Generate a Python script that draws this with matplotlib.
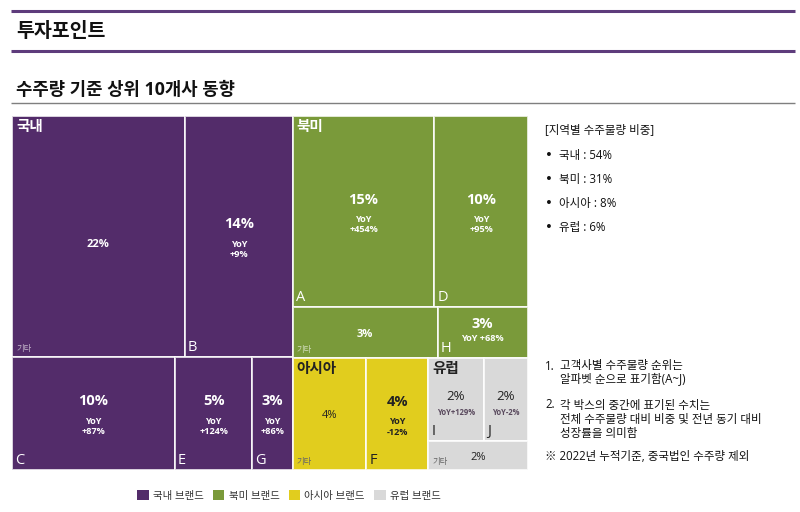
import matplotlib
matplotlib.use("Agg")
import matplotlib.pyplot as plt
from matplotlib.patches import Rectangle, Patch
from matplotlib.lines import Line2D

plt.rcParams['font.family'] = ['Open Sans', 'Noto Sans CJK KR', 'DejaVu Sans']

# ---------------- data ----------------
regions = ['국내', '북미', '아시아', '유럽']
region_share = [54, 31, 8, 6]
region_colors = ['#532C6A', '#7A9A3A', '#E1CD1E', '#D9D9D9']
legend_labels = ['국내 브랜드', '북미 브랜드', '아시아 브랜드', '유럽 브랜드']

kr_names = ['기타', 'B', 'C', 'E', 'G']
kr_sizes = [22.7, 14.2, 10.1, 4.8, 2.5]
kr_labels = ['22%', '14%', '10%', '5%', '3%']
kr_yoy = [None, '+9%', '+87%', '+124%', '+86%']

na_names = ['A', 'D', '기타', 'H']
na_sizes = [14.8, 9.8, 4.0, 2.5]
na_labels = ['15%', '10%', '3%', '3%']
na_yoy = ['+454%', '+95%', None, '+68%']

as_names = ['기타', 'F']
as_sizes = [4.5, 3.8]
as_labels = ['4%', '4%']
as_yoy = [None, '-12%']

eu_names = ['I', 'J', '기타']
eu_sizes = [2.5, 2.0, 1.6]
eu_labels = ['2%', '2%', '2%']
eu_yoy = ['+129%', '-2%', None]

notes = [
    ('1.', ['고객사별 수주물량 순위는', '알파벳 순으로 표기함(A~J)']),
    ('2.', ['각 박스의 중간에 표기된 수치는', '전체 수주물량 대비 비중 및 전년 동기 대비', '성장률을 의미함']),
]
footnote = '※ 2022년 누적기준, 중국법인 수주량 제외'

# ---------------- figure ----------------
W, H = 800, 512
fig = plt.figure(figsize=(W / 100, H / 100), dpi=100)
fig.patch.set_facecolor('white')


def fx(x):
    return x / W


def fy(y):
    return 1 - y / H


def hline(x0, x1, y, color, lw):
    fig.add_artist(Line2D([fx(x0), fx(x1)], [fy(y), fy(y)], transform=fig.transFigure,
                          color=color, lw=lw, solid_capstyle='butt'))


hline(11, 795, 11, '#5E3C7C', 2.2)
hline(11, 795, 50.5, '#5E3C7C', 2.2)
hline(11, 795, 103, '#7F7F7F', 1.0)
fig.text(fx(16), fy(32), '투자포인트', fontsize=14, fontweight='bold', va='center', ha='left', color='#111111')
fig.text(fx(16), fy(90), '수주량 기준 상위 10개사 동향', fontsize=12.8, fontweight='bold', va='center', ha='left', color='#111111')

# treemap axes
TX0, TY0, TX1, TY1 = 12, 116, 528, 470
ax = fig.add_axes([fx(TX0), fy(TY1), (TX1 - TX0) / W, (TY1 - TY0) / H])
ax.set_xlim(0, 1)
ax.set_ylim(1, 0)
ax.axis('off')


def split(rect, weights, horizontal):
    x, y, w, h = rect
    tot = sum(weights)
    out = []
    pos = 0.0
    for wt in weights:
        f = wt / tot
        if horizontal:
            out.append((x + pos * w, y, f * w, h))
        else:
            out.append((x, y + pos * h, w, f * h))
        pos += f
    return out


def layout_rows(rect, sizes, rows):
    row_w = [sum(sizes[i] for i in r) for r in rows]
    row_rects = split(rect, row_w, horizontal=False)
    rects = [None] * len(sizes)
    for rr, r in zip(row_rects, rows):
        for idx, sub in zip(r, split(rr, [sizes[i] for i in r], horizontal=True)):
            rects[idx] = sub
    return rects


full = (0, 0, 1, 1)
tot_kr, tot_na, tot_as, tot_eu = sum(kr_sizes), sum(na_sizes), sum(as_sizes), sum(eu_sizes)
r_kr, r_rest = split(full, [tot_kr, tot_na + tot_as + tot_eu], horizontal=True)
r_na, r_bot = split(r_rest, [tot_na, tot_as + tot_eu], horizontal=False)
r_as, r_eu = split(r_bot, [tot_as, tot_eu], horizontal=True)

kr_rects = layout_rows(r_kr, kr_sizes, [[0, 1], [2, 3, 4]])
na_rects = layout_rows(r_na, na_sizes, [[0, 1], [2, 3]])
as_rects = layout_rows(r_as, as_sizes, [[0, 1]])
eu_rects = layout_rows(r_eu, eu_sizes, [[0, 1], [2]])

PT = 72 / 100  # points per pixel


def put(x, y, s, dx=0, dy=0, **kw):
    ax.annotate(s, (x, y), xytext=(dx * PT, -dy * PT), textcoords='offset points', **kw)


def draw_group(rects, names, labels, yoys, color, dark, region):
    txt = '#222222' if dark else 'white'
    sub = '#666666' if dark else (1, 1, 1, 0.65)
    for k, (rc, nm, lb, yy) in enumerate(zip(rects, names, labels, yoys)):
        x, y, w, h = rc
        ax.add_patch(Rectangle((x, y), w, h, facecolor=color, edgecolor=(1, 1, 1, 0.8), lw=1.4))
        cx, cy = x + w / 2, y + h / 2
        hp = h * (TY1 - TY0)
        # corner label
        if nm == '기타':
            put(x, y + h, '기타', dx=4, dy=-4, fontsize=6, color=sub, ha='left', va='bottom')
        else:
            put(x, y + h, nm, dx=3, dy=-2, fontsize=10.5, color=txt, ha='left', va='bottom')
        # central labels
        if yy is None:
            put(cx, cy, lb, dy=(8 if hp > 150 else 2), fontsize=8,
                fontweight='bold' if not dark else 'normal',
                color=txt, ha='center', va='center')
        elif region == '유럽':
            put(cx, cy, lb, dy=-3, fontsize=9.5, color=txt, ha='center', va='center')
            put(cx, cy, 'YoY' + yy, dy=13, fontsize=5.5, fontweight='bold', color='#5A4A5E',
                ha='center', va='center')
        elif hp < 60:
            put(cx, cy, lb, dy=-9, fontsize=10.5, fontweight='bold', color=txt, ha='center', va='center')
            put(cx, cy, 'YoY ' + yy, dy=6, fontsize=6.6, fontweight='bold', color=txt,
                ha='center', va='center')
        else:
            put(cx, cy, lb, dy=-12, fontsize=10.5, fontweight='bold', color=txt, ha='center', va='center')
            put(cx, cy, 'YoY\n' + yy, dy=13, fontsize=6.6, fontweight='bold', color=txt,
                ha='center', va='center', linespacing=1.2)
        if k == 0:
            put(x, y, region, dx=4, dy=4, fontsize=10.5, fontweight='bold', color=txt,
                ha='left', va='top')


draw_group(kr_rects, kr_names, kr_labels, kr_yoy, region_colors[0], False, regions[0])
draw_group(na_rects, na_names, na_labels, na_yoy, region_colors[1], False, regions[1])
draw_group(as_rects, as_names, as_labels, as_yoy, region_colors[2], True, regions[2])
draw_group(eu_rects, eu_names, eu_labels, eu_yoy, region_colors[3], True, regions[3])

# right side text
tc = '#111111'
fs = 8.3
fig.text(fx(545), fy(130), '[지역별 수주물량 비중]', fontsize=fs, va='center', ha='left', color=tc)
for i, (rg, sh) in enumerate(zip(regions, region_share)):
    yy = 156 + i * 23.7
    fig.text(fx(545), fy(yy), '•', fontsize=9.5, va='center', ha='left', color=tc,
             family=['DejaVu Sans'])
    fig.text(fx(559), fy(yy), f'{rg} : {sh}%', fontsize=fs, va='center', ha='left', color=tc)

ny = 366
for num, lines in notes:
    fig.text(fx(545), fy(ny), num, fontsize=fs, va='center', ha='left', color=tc)
    for j, ln in enumerate(lines):
        fig.text(fx(560), fy(ny + j * 14), ln, fontsize=fs, va='center', ha='left', color=tc)
    ny += len(lines) * 14 + 11
fig.text(fx(545), fy(456), footnote, fontsize=fs, va='center', ha='left', color=tc)

# legend
handles = [Patch(facecolor=c, edgecolor='none', label=l) for c, l in zip(region_colors, legend_labels)]
fig.legend(handles=handles, loc='center', bbox_to_anchor=(fx(289), fy(496)), ncol=4, frameon=False,
           fontsize=7.5, handlelength=1.1, handleheight=1.1, handletextpad=0.4, columnspacing=0.9,
           labelcolor='#333333')

fig.savefig('out.png', dpi=100, facecolor='white')
